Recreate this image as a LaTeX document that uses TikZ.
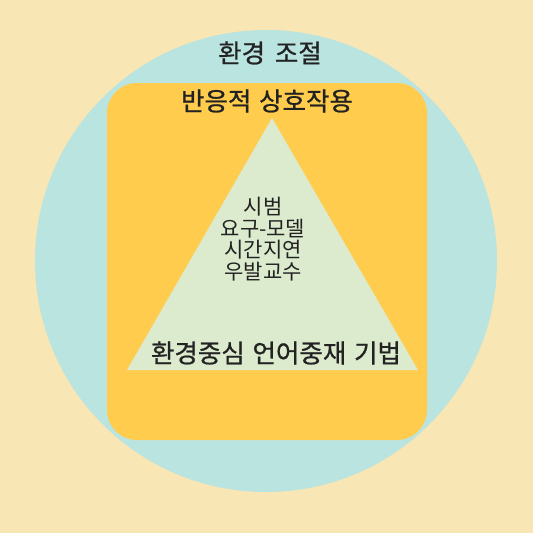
\documentclass[tikz,border=0pt]{standalone}
\usepackage{fontspec}
\newfontfamily\kr{Noto Sans CJK KR}
\newfontfamily\krh[FakeBold=0.8]{Noto Sans CJK KR}
\definecolor{bgc}{HTML}{F8E6B4}
\definecolor{circc}{HTML}{B9E4E0}
\definecolor{orc}{HTML}{FFCC4D}
\definecolor{trc}{HTML}{DCEACD}
\definecolor{txc}{HTML}{222222}
\tikzset{
  head/.style={font=\krh\fontsize{25.5}{30}\selectfont, text=txc, inner sep=0pt},
  small/.style={font=\kr\fontsize{21}{21.5}\selectfont, text=txc, inner sep=0pt, align=center},
}
\begin{document}
\begin{tikzpicture}[x=1pt,y=-1pt]
\fill[bgc] (0,0) rectangle (533,533);
\useasboundingbox (0,0) rectangle (533,533);
\fill[circc] (266,261) circle[radius=231];
\fill[orc, rounded corners=30pt] (107,83) rectangle (427,440);
\coordinate (apex) at (272,118);
\coordinate (bl) at (127,370);
\coordinate (br) at (418,370);
\fill[trc] (apex) -- (bl) -- (br) -- cycle;
\node[head] (t1) at (270,53) {환경\hspace{4pt} 조절};
\node[head] (t2) at (267,101) {반응적\hspace{2pt} 상호작용};
\node[head] (t3) at (276,353) {환경중심\hspace{2pt} 언어중재\hspace{2pt} 기법};
\node[small] (t4) at (263,239) {시범\\요구-모델\\시간지연\\우발교수};
\end{tikzpicture}
\end{document}
